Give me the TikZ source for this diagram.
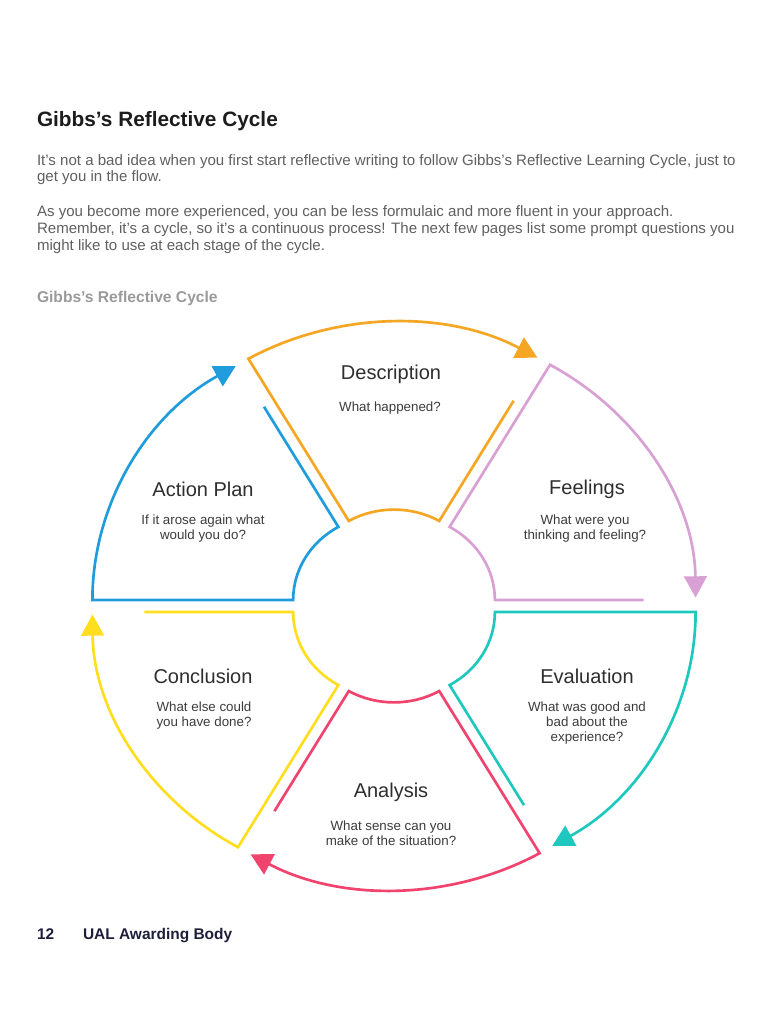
\documentclass[tikz,border=0pt]{standalone}
\usepackage{fontspec}
\setmainfont{Liberation Sans}
\usetikzlibrary{arrows.meta}
\definecolor{cOrange}{HTML}{F5A623}
\definecolor{cLilac}{HTML}{D9A0D3}
\definecolor{cTeal}{HTML}{1FC8BE}
\definecolor{cRed}{HTML}{F0446E}
\definecolor{cYellow}{HTML}{FFDD1F}
\definecolor{cBlue}{HTML}{1F9CDC}
\definecolor{bodygray}{HTML}{606060}
\definecolor{subgray}{HTML}{9A9A9A}
\definecolor{titledark}{HTML}{1C1C1C}
\definecolor{labeldark}{HTML}{2E2E2E}
\definecolor{questgray}{HTML}{3C3C3C}
\definecolor{footnavy}{HTML}{1E1E3C}
\newcommand\gseg[4]{%
  \begin{scope}[shift={(#1,#2)}, xscale=1.04, yscale=0.97]
    \draw[segline, draw=#4, -{Triangle[length=16pt, width=17pt, fill=#4]}]
      ({#3-60}:230) -- ({#3-60}:87)
      arc[start angle={#3-60}, end angle={#3}, radius=87]
      -- ({#3}:280)
      arc[start angle={#3}, end angle={#3-59.5}, radius=280];
  \end{scope}}
\begin{document}
\begin{tikzpicture}[x=0.75pt,y=0.75pt,
  segline/.style={line width=2pt, line join=miter},
  txt/.style={inner sep=0pt, outer sep=0pt},
  head/.style={txt, anchor=base west, font=\bfseries\fontsize{15.6}{18}\selectfont, text=titledark},
  body/.style={txt, anchor=base west, font=\fontsize{11.3}{13}\selectfont, text=bodygray},
  sub/.style={txt, anchor=base west, font=\bfseries\fontsize{11.7}{14}\selectfont, text=subgray},
  foot/.style={txt, anchor=base west, font=\bfseries\fontsize{11.6}{14}\selectfont, text=footnavy},
  stage/.style={txt, font=\fontsize{15}{18}\selectfont, text=labeldark},
  quest/.style={txt, align=center, font=\fontsize{10}{11.25}\selectfont, text=questgray}]
\useasboundingbox (0,0) rectangle (768,1024);
\fill[white] (0,0) rectangle (768,1024);

% header text
\node[head] (title) at (37,897) {Gibbs's Reflective Cycle};
\node[body] (p1) at (37,858.5) {It's not a bad idea when you first start reflective writing to follow Gibbs's Reflective Learning Cycle, just to};
\node[body] (p2) at (37,842.5) {get you in the flow.};
\node[body] (p3) at (37,807.5) {As you become more experienced, you can be less formulaic and more fluent in your approach.};
\node[body] (p4) at (37,790.5) {Remember, it's a cycle, so it's a continuous process! The next few pages list some prompt questions you};
\node[body] (p5) at (37,773.5) {might like to use at each stage of the cycle.};
\node[sub] (subtitle) at (37,721) {Gibbs's Reflective Cycle};

% wheel segments
\gseg{394}{430}{120}{cOrange}
\gseg{404.4}{424}{60}{cLilac}
\gseg{404.4}{412}{0}{cTeal}
\gseg{394}{406}{-60}{cRed}
\gseg{383.6}{412}{-120}{cYellow}
\gseg{383.6}{424}{180}{cBlue}

% stage labels
\node[stage] (desc) at (391,650) {Description};
\node[quest] (descq) at (390,616) {What happened?};
\node[stage] (feel) at (587,535) {Feelings};
\node[quest] (feelq) at (585,495.5) {What were you\\thinking and feeling?};
\node[stage] (eval) at (587,348) {Evaluation};
\node[quest] (evalq) at (587,301) {What was good and\\bad about the\\experience?};
\node[stage] (anal) at (391,232) {Analysis};
\node[quest] (analq) at (391,190.5) {What sense can you\\make of the situation?};
\node[stage] (concl) at (203,348) {Conclusion};
\node[quest] (conclq) at (204,308.5) {What else could\\you have done?};
\node[stage] (act) at (203,535) {Action Plan};
\node[quest] (actq) at (203,495.5) {If it arose again what\\would you do?};

% footer
\node[foot] (pagenum) at (37,84) {12};
\node[foot] (publisher) at (83,84) {UAL Awarding Body};
\end{tikzpicture}
\end{document}
